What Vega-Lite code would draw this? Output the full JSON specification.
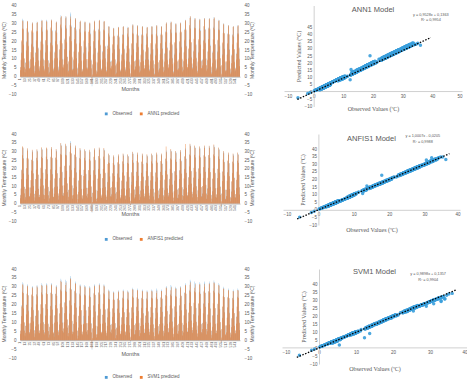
{
"$schema":"https://vega.github.io/schema/vega-lite/v6.json",
"background":"white",
"padding":{"left":1,"top":2.5,"right":0,"bottom":0},
"config":{"view":{"stroke":null},"font":"Liberation Sans","axis":{"grid":false,"labelOverlap":false,"labelColor":"#595959","titleColor":"#595959","labelFont":"Liberation Sans","titleFont":"Liberation Sans","titleFontWeight":"normal","domainColor":"#D0D0D0","tickColor":"#D0D0D0"},"axisQuantitative":{"labelOverlap":false},"legend":{"labelColor":"#595959","labelFont":"Liberation Sans"}},
"resolve":{"scale":{"color":"independent"},"legend":{"color":"independent"}},
"spacing":24.5,
"datasets":{"d":[
{"m":1,"o":3.2,"a":3.8,"f":3.0,"s":3.6},{"m":2,"o":5.1,"a":5.4,"f":4.8,"s":5.5},{"m":3,"o":8.9,"a":9.5,"f":8.6,"s":9.2},{"m":4,"o":13.8,"a":13.2,"f":14.1,"s":13.5},{"m":5,"o":19.6,"a":20.3,"f":19.2,"s":19.0},{"m":6,"o":27.4,"a":26.8,"f":27.9,"s":27.0},{"m":7,"o":32.5,"a":31.6,"f":32.9,"s":31.4},{"m":8,"o":31.8,"a":31.2,"f":32.3,"s":30.9},{"m":9,"o":26.2,"a":26.9,"f":25.8,"s":26.5},{"m":10,"o":17.5,"a":18.1,"f":17.2,"s":17.9},{"m":11,"o":9.8,"a":10.4,"f":9.5,"s":10.1},{"m":12,"o":5.6,"a":5.1,"f":5.9,"s":5.3},
{"m":13,"o":2.1,"a":2.7,"f":2.3,"s":2.6},{"m":14,"o":3.9,"a":4.5,"f":3.6,"s":4.2},{"m":15,"o":8.2,"a":7.7,"f":8.5,"s":8.0},{"m":16,"o":14.3,"a":14.9,"f":14.0,"s":14.6},{"m":17,"o":20.1,"a":19.4,"f":20.4,"s":19.8},{"m":18,"o":26.5,"a":27.2,"f":26.1,"s":26.0},{"m":19,"o":31.5,"a":30.9,"f":31.8,"s":30.6},{"m":20,"o":30.7,"a":31.3,"f":30.4,"s":30.1},{"m":21,"o":25.4,"a":24.8,"f":25.9,"s":25.1},{"m":22,"o":16.8,"a":17.4,"f":16.5,"s":16.3},{"m":23,"o":9.1,"a":8.6,"f":9.4,"s":9.7},{"m":24,"o":4.3,"a":4.9,"f":4.0,"s":4.6},
{"m":25,"o":4.0,"a":4.4,"f":4.2,"s":3.6},{"m":26,"o":5.6,"a":5.0,"f":5.9,"s":6.1},{"m":27,"o":9.4,"a":10.0,"f":9.1,"s":9.8},{"m":28,"o":13.2,"a":13.9,"f":13.5,"s":12.9},{"m":29,"o":18.7,"a":18.1,"f":19.0,"s":18.4},{"m":30,"o":25.3,"a":25.9,"f":25.0,"s":25.7},{"m":31,"o":30.5,"a":29.8,"f":30.9,"s":29.7},{"m":32,"o":29.9,"a":30.4,"f":29.5,"s":29.2},{"m":33,"o":24.6,"a":25.2,"f":24.3,"s":24.9},{"m":34,"o":17.1,"a":16.5,"f":17.4,"s":16.8},{"m":35,"o":10.3,"a":10.9,"f":10.0,"s":10.6},{"m":36,"o":5.8,"a":6.3,"f":5.5,"s":5.4},
{"m":37,"o":1.5,"a":2.2,"f":1.8,"s":2.0},{"m":38,"o":3.4,"a":3.0,"f":3.7,"s":3.9},{"m":39,"o":7.6,"a":8.3,"f":7.3,"s":7.9},{"m":40,"o":13.9,"a":13.3,"f":14.2,"s":13.6},{"m":41,"o":19.8,"a":20.5,"f":19.5,"s":20.2},{"m":42,"o":26.0,"a":25.4,"f":26.3,"s":25.5},{"m":43,"o":31.0,"a":30.2,"f":31.3,"s":30.3},{"m":44,"o":30.2,"a":30.8,"f":29.9,"s":29.6},{"m":45,"o":25.0,"a":25.7,"f":24.6,"s":24.5},{"m":46,"o":16.4,"a":15.9,"f":16.7,"s":16.9},{"m":47,"o":8.7,"a":9.3,"f":8.4,"s":9.0},{"m":48,"o":3.9,"a":4.4,"f":3.6,"s":4.3},
{"m":49,"o":3.5,"a":3.1,"f":3.8,"s":4.0},{"m":50,"o":5.2,"a":5.9,"f":4.9,"s":5.6},{"m":51,"o":9.6,"a":9.0,"f":9.9,"s":9.3},{"m":52,"o":14.5,"a":15.1,"f":14.2,"s":14.8},{"m":53,"o":20.3,"a":19.7,"f":20.6,"s":20.0},{"m":54,"o":27.1,"a":27.8,"f":26.8,"s":26.6},{"m":55,"o":32.0,"a":31.3,"f":32.4,"s":31.0},{"m":56,"o":31.2,"a":31.7,"f":30.9,"s":30.5},{"m":57,"o":25.9,"a":25.3,"f":26.2,"s":25.6},{"m":58,"o":17.9,"a":18.5,"f":17.6,"s":18.2},{"m":59,"o":10.2,"a":9.7,"f":10.5,"s":9.9},{"m":60,"o":5.4,"a":6.0,"f":5.1,"s":5.8},
{"m":61,"o":2.8,"a":3.4,"f":2.6,"s":3.3},{"m":62,"o":4.6,"a":4.1,"f":4.9,"s":4.2},{"m":63,"o":8.8,"a":9.4,"f":8.5,"s":9.1},{"m":64,"o":14.0,"a":13.5,"f":14.3,"s":13.7},{"m":65,"o":19.9,"a":20.6,"f":19.6,"s":20.3},{"m":66,"o":26.8,"a":26.1,"f":27.1,"s":26.4},{"m":67,"o":32.0,"a":31.5,"f":32.3,"s":31.2},{"m":68,"o":31.4,"a":30.7,"f":31.7,"s":30.6},{"m":69,"o":25.7,"a":26.4,"f":25.4,"s":26.0},{"m":70,"o":17.2,"a":17.8,"f":16.9,"s":17.5},{"m":71,"o":9.4,"a":9.0,"f":9.7,"s":8.9},{"m":72,"o":4.9,"a":5.5,"f":4.6,"s":5.2},
{"m":73,"o":0.9,"a":1.6,"f":1.2,"s":1.5},{"m":74,"o":2.8,"a":2.3,"f":3.1,"s":3.2},{"m":75,"o":7.3,"a":7.9,"f":7.0,"s":7.6},{"m":76,"o":13.6,"a":14.2,"f":13.3,"s":13.9},{"m":77,"o":19.4,"a":18.8,"f":19.7,"s":19.1},{"m":78,"o":27.0,"a":27.6,"f":26.7,"s":26.5},{"m":79,"o":32.2,"a":31.4,"f":32.6,"s":31.3},{"m":80,"o":31.5,"a":32.0,"f":31.2,"s":30.8},{"m":81,"o":26.1,"a":25.5,"f":26.4,"s":25.8},{"m":82,"o":17.0,"a":17.6,"f":16.7,"s":17.3},{"m":83,"o":8.9,"a":9.5,"f":8.6,"s":9.2},{"m":84,"o":3.6,"a":3.1,"f":3.9,"s":3.9},
{"m":85,"o":3.9,"a":4.5,"f":3.7,"s":4.4},{"m":86,"o":5.5,"a":5.0,"f":5.8,"s":2.0},{"m":87,"o":9.7,"a":10.3,"f":9.4,"s":10.0},{"m":88,"o":14.2,"a":13.6,"f":14.5,"s":13.9},{"m":89,"o":19.5,"a":20.2,"f":19.2,"s":19.8},{"m":90,"o":26.2,"a":25.6,"f":26.5,"s":25.9},{"m":91,"o":31.0,"a":30.3,"f":31.4,"s":30.2},{"m":92,"o":30.3,"a":30.9,"f":30.0,"s":29.7},{"m":93,"o":25.1,"a":24.5,"f":25.4,"s":24.8},{"m":94,"o":17.6,"a":18.2,"f":17.3,"s":17.9},{"m":95,"o":10.0,"a":10.6,"f":9.7,"s":10.3},{"m":96,"o":5.7,"a":5.2,"f":6.0,"s":5.4},
{"m":97,"o":2.4,"a":3.0,"f":2.2,"s":2.9},{"m":98,"o":4.3,"a":3.8,"f":4.6,"s":4.7},{"m":99,"o":8.6,"a":9.2,"f":8.3,"s":8.9},{"m":100,"o":14.8,"a":15.4,"f":14.5,"s":15.1},{"m":101,"o":20.9,"a":20.2,"f":21.2,"s":20.5},{"m":102,"o":28.6,"a":29.3,"f":28.3,"s":28.0},{"m":103,"o":34.5,"a":33.2,"f":34.8,"s":33.4},{"m":104,"o":33.6,"a":34.1,"f":33.3,"s":32.7},{"m":105,"o":27.8,"a":27.1,"f":28.1,"s":27.4},{"m":106,"o":18.3,"a":18.9,"f":18.0,"s":18.6},{"m":107,"o":10.1,"a":9.6,"f":10.4,"s":9.8},{"m":108,"o":5.0,"a":5.6,"f":4.7,"s":5.3},
{"m":109,"o":4.6,"a":5.1,"f":4.4,"s":4.2},{"m":110,"o":6.3,"a":6.9,"f":6.0,"s":6.7},{"m":111,"o":10.2,"a":9.7,"f":10.5,"s":9.9},{"m":112,"o":15.0,"a":15.6,"f":14.7,"s":15.3},{"m":113,"o":21.4,"a":20.8,"f":21.7,"s":21.0},{"m":114,"o":28.3,"a":28.9,"f":28.0,"s":27.7},{"m":115,"o":34.0,"a":32.9,"f":34.4,"s":31.0},{"m":116,"o":33.2,"a":33.8,"f":32.9,"s":32.4},{"m":117,"o":27.5,"a":26.9,"f":27.8,"s":27.1},{"m":118,"o":19.0,"a":19.6,"f":18.7,"s":19.3},{"m":119,"o":11.4,"a":11.0,"f":11.7,"s":11.8},{"m":120,"o":6.8,"a":7.3,"f":6.5,"s":7.1},
{"m":121,"o":1.8,"a":2.5,"f":2.1,"s":2.4},{"m":122,"o":3.7,"a":3.2,"f":4.0,"s":4.1},{"m":123,"o":8.1,"a":8.7,"f":7.8,"s":8.4},{"m":124,"o":15.2,"a":14.6,"f":15.5,"s":14.9},{"m":125,"o":22.0,"a":22.7,"f":21.7,"s":22.4},{"m":126,"o":29.5,"a":28.9,"f":29.8,"s":29.0},{"m":127,"o":36.0,"a":32.5,"f":33.2,"s":34.6},{"m":128,"o":35.1,"a":33.8,"f":34.8,"s":34.2},{"m":129,"o":28.7,"a":28.0,"f":29.0,"s":28.3},{"m":130,"o":19.4,"a":20.0,"f":19.1,"s":19.7},{"m":131,"o":10.6,"a":11.2,"f":10.3,"s":10.9},{"m":132,"o":4.5,"a":4.0,"f":4.8,"s":4.9},
{"m":133,"o":3.0,"a":3.6,"f":2.8,"s":3.5},{"m":134,"o":4.8,"a":4.3,"f":5.1,"s":4.4},{"m":135,"o":9.0,"a":9.6,"f":8.7,"s":9.3},{"m":136,"o":14.6,"a":14.0,"f":14.9,"s":14.3},{"m":137,"o":20.6,"a":21.2,"f":20.3,"s":20.9},{"m":138,"o":27.9,"a":27.3,"f":28.2,"s":27.5},{"m":139,"o":33.0,"a":32.2,"f":33.4,"s":32.0},{"m":140,"o":32.3,"a":32.9,"f":32.0,"s":31.6},{"m":141,"o":26.6,"a":26.0,"f":26.9,"s":26.3},{"m":142,"o":18.1,"a":18.7,"f":17.8,"s":18.4},{"m":143,"o":9.9,"a":10.5,"f":9.6,"s":10.2},{"m":144,"o":5.1,"a":4.6,"f":5.4,"s":5.5},
{"m":145,"o":0.4,"a":1.1,"f":0.7,"s":1.0},{"m":146,"o":2.3,"a":1.8,"f":2.6,"s":2.7},{"m":147,"o":6.9,"a":7.5,"f":6.6,"s":7.2},{"m":148,"o":13.4,"a":14.0,"f":13.1,"s":13.7},{"m":149,"o":19.2,"a":18.6,"f":19.5,"s":18.9},{"m":150,"o":26.4,"a":27.0,"f":26.1,"s":25.8},{"m":151,"o":31.5,"a":30.8,"f":31.9,"s":30.7},{"m":152,"o":30.8,"a":31.4,"f":30.5,"s":30.2},{"m":153,"o":25.3,"a":24.7,"f":25.6,"s":25.0},{"m":154,"o":16.6,"a":17.2,"f":16.3,"s":16.9},{"m":155,"o":8.5,"a":9.1,"f":8.2,"s":8.8},{"m":156,"o":3.2,"a":2.7,"f":3.5,"s":3.6},
{"m":157,"o":2.7,"a":3.3,"f":2.5,"s":3.2},{"m":158,"o":4.5,"a":4.0,"f":4.8,"s":4.9},{"m":159,"o":8.7,"a":9.3,"f":8.4,"s":9.0},{"m":160,"o":13.7,"a":13.1,"f":15.8,"s":9.2},{"m":161,"o":19.6,"a":20.3,"f":19.3,"s":19.9},{"m":162,"o":26.0,"a":25.3,"f":26.3,"s":25.6},{"m":163,"o":31.0,"a":30.4,"f":31.3,"s":30.1},{"m":164,"o":30.4,"a":30.9,"f":30.1,"s":29.8},{"m":165,"o":24.9,"a":25.5,"f":24.6,"s":25.2},{"m":166,"o":16.9,"a":16.3,"f":17.2,"s":16.6},{"m":167,"o":9.3,"a":9.9,"f":9.0,"s":9.6},{"m":168,"o":4.6,"a":5.2,"f":4.3,"s":4.9},
{"m":169,"o":3.6,"a":4.2,"f":3.4,"s":3.1},{"m":170,"o":5.3,"a":4.8,"f":5.6,"s":5.7},{"m":171,"o":9.3,"a":9.9,"f":9.0,"s":9.6},{"m":172,"o":13.5,"a":14.1,"f":13.2,"s":13.8},{"m":173,"o":19.0,"a":25.2,"f":19.3,"s":18.7},{"m":174,"o":25.6,"a":26.2,"f":25.3,"s":25.0},{"m":175,"o":30.5,"a":29.9,"f":30.9,"s":29.6},{"m":176,"o":29.8,"a":30.3,"f":29.5,"s":29.1},{"m":177,"o":24.4,"a":23.8,"f":24.7,"s":24.1},{"m":178,"o":16.7,"a":17.3,"f":16.4,"s":17.0},{"m":179,"o":9.6,"a":9.1,"f":9.9,"s":9.3},{"m":180,"o":4.1,"a":4.7,"f":3.8,"s":4.4},
{"m":181,"o":-5.3,"a":-3.9,"f":-4.8,"s":-4.5},{"m":182,"o":0.6,"a":1.3,"f":0.9,"s":1.2},{"m":183,"o":6.4,"a":7.0,"f":6.1,"s":6.7},{"m":184,"o":13.1,"a":12.5,"f":13.4,"s":12.8},{"m":185,"o":19.3,"a":20.0,"f":19.0,"s":19.6},{"m":186,"o":26.6,"a":26.0,"f":26.9,"s":26.2},{"m":187,"o":31.5,"a":30.7,"f":31.8,"s":30.6},{"m":188,"o":30.9,"a":31.5,"f":30.6,"s":30.2},{"m":189,"o":25.2,"a":25.8,"f":24.9,"s":25.5},{"m":190,"o":16.3,"a":15.8,"f":16.6,"s":16.0},{"m":191,"o":8.0,"a":8.6,"f":7.7,"s":8.3},{"m":192,"o":2.9,"a":3.5,"f":2.6,"s":3.3},
{"m":193,"o":1.2,"a":1.8,"f":1.4,"s":1.7},{"m":194,"o":3.1,"a":2.6,"f":3.4,"s":3.5},{"m":195,"o":7.5,"a":8.1,"f":7.2,"s":7.8},{"m":196,"o":14.1,"a":13.5,"f":14.4,"s":13.8},{"m":197,"o":20.0,"a":20.7,"f":19.7,"s":20.3},{"m":198,"o":27.0,"a":26.4,"f":27.3,"s":26.6},{"m":199,"o":32.0,"a":31.3,"f":32.3,"s":31.1},{"m":200,"o":31.3,"a":31.9,"f":31.0,"s":30.7},{"m":201,"o":25.8,"a":25.2,"f":26.1,"s":25.5},{"m":202,"o":17.3,"a":17.9,"f":17.0,"s":17.6},{"m":203,"o":9.0,"a":9.6,"f":8.7,"s":9.3},{"m":204,"o":4.0,"a":3.5,"f":4.3,"s":4.4},
{"m":205,"o":3.4,"a":4.0,"f":3.2,"s":3.9},{"m":206,"o":5.0,"a":4.5,"f":5.3,"s":4.6},{"m":207,"o":9.1,"a":9.7,"f":8.8,"s":9.4},{"m":208,"o":14.4,"a":13.8,"f":14.7,"s":14.1},{"m":209,"o":20.2,"a":20.8,"f":19.9,"s":20.5},{"m":210,"o":26.7,"a":26.1,"f":27.0,"s":26.3},{"m":211,"o":31.5,"a":30.9,"f":31.9,"s":30.7},{"m":212,"o":30.8,"a":31.3,"f":30.5,"s":30.1},{"m":213,"o":25.5,"a":26.1,"f":25.2,"s":25.8},{"m":214,"o":17.4,"a":16.8,"f":17.7,"s":17.1},{"m":215,"o":9.7,"a":10.3,"f":9.4,"s":10.0},{"m":216,"o":5.2,"a":5.8,"f":4.9,"s":5.5},
{"m":217,"o":2.2,"a":2.8,"f":2.0,"s":2.7},{"m":218,"o":3.8,"a":3.3,"f":4.1,"s":4.2},{"m":219,"o":7.8,"a":8.4,"f":7.5,"s":8.1},{"m":220,"o":12.6,"a":15.6,"f":12.3,"s":12.9},{"m":221,"o":17.9,"a":17.3,"f":22.8,"s":17.6},{"m":222,"o":23.8,"a":24.4,"f":23.5,"s":23.2},{"m":223,"o":28.5,"a":28.0,"f":28.8,"s":27.9},{"m":224,"o":27.9,"a":28.4,"f":27.6,"s":27.4},{"m":225,"o":23.1,"a":22.5,"f":23.4,"s":22.8},{"m":226,"o":15.8,"a":16.4,"f":15.5,"s":16.1},{"m":227,"o":8.8,"a":8.3,"f":9.1,"s":8.5},{"m":228,"o":4.4,"a":5.0,"f":4.1,"s":4.7},
{"m":229,"o":4.1,"a":4.6,"f":3.9,"s":3.7},{"m":230,"o":5.6,"a":6.2,"f":5.3,"s":6.0},{"m":231,"o":9.2,"a":8.7,"f":9.5,"s":8.9},{"m":232,"o":12.9,"a":13.5,"f":12.6,"s":13.2},{"m":233,"o":17.6,"a":18.2,"f":17.3,"s":17.9},{"m":234,"o":23.0,"a":22.4,"f":23.3,"s":22.7},{"m":235,"o":27.5,"a":27.0,"f":27.8,"s":26.9},{"m":236,"o":26.9,"a":27.4,"f":26.6,"s":26.5},{"m":237,"o":22.4,"a":23.0,"f":22.1,"s":22.7},{"m":238,"o":15.6,"a":15.1,"f":15.9,"s":15.3},{"m":239,"o":9.4,"a":10.0,"f":9.1,"s":9.7},{"m":240,"o":5.9,"a":6.4,"f":5.6,"s":6.2},
{"m":241,"o":0.7,"a":1.4,"f":1.0,"s":1.3},{"m":242,"o":2.5,"a":2.0,"f":2.8,"s":2.9},{"m":243,"o":6.8,"a":7.4,"f":6.5,"s":7.1},{"m":244,"o":12.3,"a":8.6,"f":12.6,"s":6.6},{"m":245,"o":17.5,"a":18.1,"f":17.2,"s":17.8},{"m":246,"o":23.5,"a":22.9,"f":23.8,"s":23.1},{"m":247,"o":28.0,"a":27.5,"f":28.3,"s":27.4},{"m":248,"o":27.4,"a":27.9,"f":27.1,"s":26.9},{"m":249,"o":22.6,"a":22.0,"f":22.9,"s":22.3},{"m":250,"o":15.1,"a":15.7,"f":14.8,"s":15.4},{"m":251,"o":7.9,"a":8.5,"f":7.6,"s":8.2},{"m":252,"o":3.3,"a":2.8,"f":3.6,"s":3.7},
{"m":253,"o":3.0,"a":3.6,"f":2.8,"s":3.5},{"m":254,"o":4.7,"a":4.2,"f":5.0,"s":5.1},{"m":255,"o":8.5,"a":9.1,"f":8.2,"s":8.8},{"m":256,"o":13.0,"a":12.4,"f":13.3,"s":12.7},{"m":257,"o":18.1,"a":18.7,"f":17.8,"s":18.4},{"m":258,"o":24.0,"a":23.4,"f":24.3,"s":23.6},{"m":259,"o":28.5,"a":27.9,"f":28.8,"s":27.8},{"m":260,"o":27.8,"a":28.3,"f":27.5,"s":27.3},{"m":261,"o":23.0,"a":23.6,"f":22.7,"s":23.3},{"m":262,"o":15.9,"a":15.3,"f":16.2,"s":15.6},{"m":263,"o":9.0,"a":9.6,"f":8.7,"s":9.3},{"m":264,"o":4.8,"a":5.4,"f":4.5,"s":5.1},
{"m":265,"o":2.5,"a":3.1,"f":2.3,"s":3.0},{"m":266,"o":4.2,"a":3.7,"f":4.5,"s":4.6},{"m":267,"o":8.3,"a":8.9,"f":8.0,"s":8.6},{"m":268,"o":12.8,"a":13.4,"f":12.5,"s":13.1},{"m":269,"o":17.8,"a":17.2,"f":18.1,"s":17.5},{"m":270,"o":23.6,"a":24.2,"f":23.3,"s":23.0},{"m":271,"o":28.0,"a":27.4,"f":28.3,"s":27.3},{"m":272,"o":27.3,"a":27.8,"f":27.0,"s":26.8},{"m":273,"o":22.7,"a":22.1,"f":23.0,"s":22.4},{"m":274,"o":15.4,"a":16.0,"f":15.1,"s":15.7},{"m":275,"o":8.6,"a":8.1,"f":8.9,"s":8.3},{"m":276,"o":4.0,"a":4.6,"f":3.7,"s":4.3},
{"m":277,"o":-1.2,"a":-0.3,"f":-0.9,"s":-0.5},{"m":278,"o":1.4,"a":2.0,"f":1.7,"s":1.9},{"m":279,"o":6.2,"a":6.8,"f":5.9,"s":6.5},{"m":280,"o":12.5,"a":11.9,"f":10.8,"s":12.2},{"m":281,"o":18.2,"a":18.8,"f":17.9,"s":18.5},{"m":282,"o":24.8,"a":24.2,"f":25.1,"s":24.4},{"m":283,"o":29.5,"a":28.8,"f":29.8,"s":28.7},{"m":284,"o":28.8,"a":29.3,"f":28.5,"s":28.2},{"m":285,"o":23.7,"a":24.3,"f":23.4,"s":24.0},{"m":286,"o":15.7,"a":15.2,"f":16.0,"s":15.4},{"m":287,"o":8.2,"a":8.8,"f":7.9,"s":8.5},{"m":288,"o":3.1,"a":3.7,"f":2.8,"s":3.4},
{"m":289,"o":3.8,"a":4.3,"f":3.6,"s":3.4},{"m":290,"o":5.4,"a":5.9,"f":5.1,"s":5.8},{"m":291,"o":9.5,"a":9.0,"f":9.8,"s":9.2},{"m":292,"o":13.3,"a":13.9,"f":13.0,"s":13.6},{"m":293,"o":18.5,"a":19.1,"f":18.2,"s":18.8},{"m":294,"o":24.3,"a":23.7,"f":24.6,"s":24.0},{"m":295,"o":29.0,"a":28.4,"f":29.3,"s":28.2},{"m":296,"o":28.3,"a":28.8,"f":28.0,"s":27.8},{"m":297,"o":23.4,"a":22.8,"f":23.7,"s":23.1},{"m":298,"o":16.2,"a":16.8,"f":15.9,"s":16.5},{"m":299,"o":9.8,"a":9.3,"f":10.1,"s":9.5},{"m":300,"o":5.5,"a":6.1,"f":5.2,"s":5.8},
{"m":301,"o":1.9,"a":2.5,"f":2.1,"s":2.4},{"m":302,"o":3.6,"a":3.1,"f":3.9,"s":4.0},{"m":303,"o":7.7,"a":8.3,"f":7.4,"s":8.0},{"m":304,"o":12.7,"a":12.1,"f":13.0,"s":12.4},{"m":305,"o":17.9,"a":18.5,"f":17.6,"s":18.2},{"m":306,"o":23.9,"a":23.3,"f":24.2,"s":23.5},{"m":307,"o":28.5,"a":27.9,"f":28.8,"s":27.8},{"m":308,"o":27.8,"a":28.3,"f":27.5,"s":27.3},{"m":309,"o":22.9,"a":23.5,"f":22.6,"s":23.2},{"m":310,"o":15.3,"a":14.8,"f":15.6,"s":15.0},{"m":311,"o":8.4,"a":9.0,"f":8.1,"s":8.7},{"m":312,"o":3.7,"a":4.3,"f":3.4,"s":4.0},
{"m":313,"o":4.4,"a":4.9,"f":4.2,"s":4.0},{"m":314,"o":6.0,"a":6.6,"f":5.7,"s":6.4},{"m":315,"o":9.9,"a":9.4,"f":10.2,"s":9.6},{"m":316,"o":13.6,"a":14.2,"f":13.3,"s":13.9},{"m":317,"o":18.4,"a":17.8,"f":18.7,"s":18.1},{"m":318,"o":23.7,"a":24.3,"f":23.4,"s":23.1},{"m":319,"o":28.0,"a":27.5,"f":28.3,"s":27.4},{"m":320,"o":27.4,"a":27.9,"f":27.1,"s":26.9},{"m":321,"o":22.8,"a":22.2,"f":23.1,"s":22.5},{"m":322,"o":16.0,"a":16.6,"f":15.7,"s":16.3},{"m":323,"o":9.9,"a":9.4,"f":10.2,"s":9.6},{"m":324,"o":6.2,"a":6.8,"f":5.9,"s":6.5},
{"m":325,"o":2.6,"a":3.2,"f":2.4,"s":3.1},{"m":326,"o":4.3,"a":3.8,"f":4.6,"s":4.7},{"m":327,"o":8.4,"a":9.0,"f":8.1,"s":8.7},{"m":328,"o":13.1,"a":12.5,"f":13.4,"s":12.8},{"m":329,"o":18.3,"a":18.9,"f":18.0,"s":18.6},{"m":330,"o":24.1,"a":23.5,"f":24.4,"s":23.7},{"m":331,"o":28.5,"a":28.0,"f":28.8,"s":27.8},{"m":332,"o":27.9,"a":28.4,"f":27.6,"s":27.4},{"m":333,"o":23.2,"a":23.8,"f":22.9,"s":23.5},{"m":334,"o":15.6,"a":15.1,"f":15.9,"s":15.3},{"m":335,"o":8.7,"a":9.3,"f":8.4,"s":9.0},{"m":336,"o":4.2,"a":4.8,"f":3.9,"s":4.5},
{"m":337,"o":0.2,"a":0.9,"f":0.5,"s":0.8},{"m":338,"o":2.0,"a":1.5,"f":2.3,"s":2.4},{"m":339,"o":6.6,"a":7.2,"f":6.3,"s":6.9},{"m":340,"o":12.4,"a":11.8,"f":12.7,"s":12.1},{"m":341,"o":18.0,"a":18.6,"f":17.7,"s":18.3},{"m":342,"o":24.4,"a":23.8,"f":24.7,"s":24.0},{"m":343,"o":29.0,"a":28.3,"f":29.3,"s":26.5},{"m":344,"o":28.4,"a":28.9,"f":28.1,"s":27.8},{"m":345,"o":23.3,"a":22.7,"f":23.6,"s":23.0},{"m":346,"o":15.2,"a":15.8,"f":14.9,"s":15.5},{"m":347,"o":7.7,"a":8.3,"f":7.4,"s":8.0},{"m":348,"o":2.8,"a":2.3,"f":3.1,"s":3.2},
{"m":349,"o":3.3,"a":3.9,"f":3.1,"s":3.8},{"m":350,"o":4.9,"a":4.4,"f":5.2,"s":5.3},{"m":351,"o":8.8,"a":9.4,"f":8.5,"s":9.1},{"m":352,"o":13.2,"a":12.6,"f":13.5,"s":12.9},{"m":353,"o":18.4,"a":19.0,"f":18.1,"s":18.7},{"m":354,"o":24.2,"a":23.6,"f":24.5,"s":23.8},{"m":355,"o":28.5,"a":27.9,"f":28.8,"s":27.7},{"m":356,"o":27.9,"a":28.4,"f":27.6,"s":27.5},{"m":357,"o":23.1,"a":23.7,"f":22.8,"s":23.4},{"m":358,"o":16.1,"a":15.5,"f":16.4,"s":15.8},{"m":359,"o":9.2,"a":9.8,"f":8.9,"s":9.5},{"m":360,"o":5.0,"a":5.6,"f":4.7,"s":5.3},
{"m":361,"o":2.0,"a":2.6,"f":2.2,"s":2.5},{"m":362,"o":3.8,"a":3.3,"f":4.1,"s":4.2},{"m":363,"o":8.0,"a":8.6,"f":7.7,"s":8.3},{"m":364,"o":13.5,"a":12.9,"f":13.8,"s":13.2},{"m":365,"o":19.1,"a":19.7,"f":18.8,"s":19.4},{"m":366,"o":25.6,"a":25.0,"f":25.9,"s":25.2},{"m":367,"o":30.5,"a":29.8,"f":32.8,"s":29.6},{"m":368,"o":29.8,"a":30.4,"f":29.5,"s":29.2},{"m":369,"o":24.5,"a":25.1,"f":24.2,"s":24.8},{"m":370,"o":16.5,"a":16.0,"f":16.8,"s":16.2},{"m":371,"o":8.9,"a":9.5,"f":8.6,"s":9.2},{"m":372,"o":4.1,"a":4.7,"f":3.8,"s":4.4},
{"m":373,"o":4.8,"a":5.3,"f":4.6,"s":4.4},{"m":374,"o":6.4,"a":7.0,"f":6.1,"s":6.8},{"m":375,"o":10.3,"a":9.8,"f":10.6,"s":10.0},{"m":376,"o":14.3,"a":14.9,"f":14.0,"s":14.6},{"m":377,"o":19.7,"a":19.1,"f":20.0,"s":19.4},{"m":378,"o":26.1,"a":26.7,"f":25.8,"s":25.5},{"m":379,"o":31.0,"a":30.3,"f":31.4,"s":28.0},{"m":380,"o":30.3,"a":30.9,"f":30.0,"s":29.7},{"m":381,"o":25.0,"a":24.4,"f":25.3,"s":24.7},{"m":382,"o":17.7,"a":18.3,"f":17.4,"s":18.0},{"m":383,"o":10.7,"a":10.2,"f":11.0,"s":10.4},{"m":384,"o":6.5,"a":7.1,"f":6.2,"s":6.8},
{"m":385,"o":1.4,"a":2.0,"f":1.6,"s":1.9},{"m":386,"o":3.2,"a":2.7,"f":3.5,"s":3.6},{"m":387,"o":7.4,"a":8.0,"f":7.1,"s":7.7},{"m":388,"o":13.0,"a":12.4,"f":13.3,"s":12.7},{"m":389,"o":18.8,"a":19.4,"f":18.5,"s":19.1},{"m":390,"o":25.1,"a":24.5,"f":25.4,"s":24.7},{"m":391,"o":30.0,"a":29.4,"f":30.3,"s":29.2},{"m":392,"o":29.3,"a":29.9,"f":29.0,"s":28.7},{"m":393,"o":24.2,"a":24.8,"f":23.9,"s":24.5},{"m":394,"o":16.2,"a":15.7,"f":16.5,"s":15.9},{"m":395,"o":8.3,"a":8.9,"f":8.0,"s":8.6},{"m":396,"o":3.5,"a":4.1,"f":3.2,"s":3.8},
{"m":397,"o":3.1,"a":3.7,"f":2.9,"s":3.6},{"m":398,"o":4.9,"a":4.4,"f":5.2,"s":5.3},{"m":399,"o":9.0,"a":9.6,"f":8.7,"s":9.3},{"m":400,"o":13.8,"a":13.2,"f":14.1,"s":13.5},{"m":401,"o":19.3,"a":19.9,"f":19.0,"s":19.6},{"m":402,"o":25.5,"a":24.9,"f":25.8,"s":23.5},{"m":403,"o":30.5,"a":29.9,"f":30.8,"s":29.7},{"m":404,"o":29.8,"a":30.3,"f":29.5,"s":29.2},{"m":405,"o":24.7,"a":25.3,"f":24.4,"s":25.0},{"m":406,"o":17.0,"a":16.4,"f":17.3,"s":16.7},{"m":407,"o":9.5,"a":10.1,"f":9.2,"s":9.8},{"m":408,"o":5.0,"a":5.6,"f":4.7,"s":5.3},
{"m":409,"o":2.3,"a":2.9,"f":2.1,"s":2.8},{"m":410,"o":4.1,"a":3.6,"f":4.4,"s":4.5},{"m":411,"o":8.4,"a":9.0,"f":8.1,"s":8.7},{"m":412,"o":14.2,"a":13.6,"f":14.5,"s":13.9},{"m":413,"o":20.1,"a":20.7,"f":19.8,"s":20.4},{"m":414,"o":26.9,"a":26.3,"f":27.2,"s":26.5},{"m":415,"o":32.0,"a":31.2,"f":34.3,"s":31.0},{"m":416,"o":31.3,"a":31.8,"f":31.0,"s":30.6},{"m":417,"o":25.9,"a":26.5,"f":25.6,"s":26.2},{"m":418,"o":17.4,"a":16.9,"f":17.7,"s":17.1},{"m":419,"o":9.3,"a":9.9,"f":9.0,"s":9.6},{"m":420,"o":4.5,"a":5.1,"f":4.2,"s":4.8},
{"m":421,"o":5.0,"a":5.5,"f":4.8,"s":4.6},{"m":422,"o":6.7,"a":7.3,"f":6.4,"s":7.0},{"m":423,"o":10.6,"a":10.1,"f":10.9,"s":10.3},{"m":424,"o":15.3,"a":15.9,"f":15.0,"s":15.6},{"m":425,"o":21.2,"a":20.6,"f":21.5,"s":20.9},{"m":426,"o":28.4,"a":29.0,"f":28.1,"s":27.8},{"m":427,"o":34.0,"a":33.0,"f":34.4,"s":31.2},{"m":428,"o":33.3,"a":33.9,"f":33.0,"s":32.5},{"m":429,"o":27.4,"a":26.8,"f":27.7,"s":27.0},{"m":430,"o":18.9,"a":19.5,"f":18.6,"s":19.2},{"m":431,"o":11.2,"a":10.7,"f":11.5,"s":10.9},{"m":432,"o":7.0,"a":7.6,"f":6.7,"s":7.3},
{"m":433,"o":3.7,"a":4.3,"f":3.5,"s":4.2},{"m":434,"o":5.4,"a":4.9,"f":5.7,"s":5.8},{"m":435,"o":9.4,"a":10.0,"f":9.1,"s":9.7},{"m":436,"o":14.7,"a":14.1,"f":15.0,"s":14.4},{"m":437,"o":20.7,"a":21.3,"f":20.4,"s":21.0},{"m":438,"o":27.8,"a":27.2,"f":28.1,"s":27.4},{"m":439,"o":33.0,"a":32.1,"f":33.4,"s":29.5},{"m":440,"o":32.2,"a":32.8,"f":31.9,"s":31.5},{"m":441,"o":26.7,"a":27.3,"f":26.4,"s":27.0},{"m":442,"o":18.2,"a":17.6,"f":18.5,"s":17.9},{"m":443,"o":10.1,"a":10.7,"f":9.8,"s":10.4},{"m":444,"o":5.6,"a":6.2,"f":5.3,"s":5.9},
{"m":445,"o":1.6,"a":2.2,"f":1.8,"s":2.1},{"m":446,"o":3.5,"a":3.0,"f":3.8,"s":3.9},{"m":447,"o":7.9,"a":8.5,"f":7.6,"s":8.2},{"m":448,"o":14.0,"a":13.4,"f":14.3,"s":13.7},{"m":449,"o":20.4,"a":21.0,"f":20.1,"s":20.7},{"m":450,"o":27.3,"a":26.7,"f":27.6,"s":26.9},{"m":451,"o":32.5,"a":31.7,"f":32.9,"s":31.5},{"m":452,"o":31.8,"a":32.4,"f":31.5,"s":31.1},{"m":453,"o":26.3,"a":25.7,"f":26.6,"s":26.0},{"m":454,"o":17.5,"a":18.1,"f":17.2,"s":17.8},{"m":455,"o":9.2,"a":8.7,"f":9.5,"s":8.9},{"m":456,"o":4.3,"a":4.9,"f":4.0,"s":4.6},
{"m":457,"o":4.2,"a":4.7,"f":4.0,"s":3.8},{"m":458,"o":5.9,"a":6.5,"f":5.6,"s":6.3},{"m":459,"o":9.8,"a":9.3,"f":10.1,"s":9.5},{"m":460,"o":14.9,"a":15.5,"f":14.6,"s":15.2},{"m":461,"o":20.8,"a":20.2,"f":21.1,"s":20.5},{"m":462,"o":27.9,"a":28.5,"f":27.6,"s":27.3},{"m":463,"o":33.0,"a":32.2,"f":33.4,"s":30.0},{"m":464,"o":32.3,"a":32.8,"f":32.0,"s":31.6},{"m":465,"o":26.8,"a":26.2,"f":27.1,"s":26.5},{"m":466,"o":18.5,"a":19.1,"f":18.2,"s":18.8},{"m":467,"o":10.5,"a":10.0,"f":10.8,"s":10.2},{"m":468,"o":6.0,"a":6.6,"f":5.7,"s":6.3},
{"m":469,"o":2.9,"a":3.5,"f":2.7,"s":3.4},{"m":470,"o":4.7,"a":4.2,"f":5.0,"s":5.1},{"m":471,"o":8.9,"a":9.5,"f":8.6,"s":9.2},{"m":472,"o":14.6,"a":14.0,"f":14.9,"s":14.3},{"m":473,"o":20.6,"a":21.2,"f":20.3,"s":20.9},{"m":474,"o":27.7,"a":27.1,"f":28.0,"s":27.3},{"m":475,"o":33.0,"a":32.3,"f":33.3,"s":31.8},{"m":476,"o":32.2,"a":32.7,"f":31.9,"s":31.5},{"m":477,"o":26.5,"a":27.1,"f":26.2,"s":26.8},{"m":478,"o":17.9,"a":17.3,"f":18.2,"s":17.6},{"m":479,"o":9.7,"a":10.3,"f":9.4,"s":10.0},{"m":480,"o":5.1,"a":5.7,"f":4.8,"s":5.4},
{"m":481,"o":0.8,"a":1.5,"f":1.1,"s":1.4},{"m":482,"o":2.7,"a":2.2,"f":3.0,"s":3.1},{"m":483,"o":7.2,"a":7.8,"f":6.9,"s":7.5},{"m":484,"o":14.1,"a":13.5,"f":14.4,"s":13.8},{"m":485,"o":20.5,"a":21.1,"f":20.2,"s":20.8},{"m":486,"o":28.0,"a":27.4,"f":28.3,"s":27.6},{"m":487,"o":33.5,"a":32.6,"f":33.9,"s":32.4},{"m":488,"o":32.7,"a":33.3,"f":32.4,"s":32.0},{"m":489,"o":27.0,"a":26.4,"f":27.3,"s":26.7},{"m":490,"o":17.8,"a":18.4,"f":17.5,"s":18.1},{"m":491,"o":9.0,"a":9.6,"f":8.7,"s":9.3},{"m":492,"o":3.7,"a":3.2,"f":4.0,"s":4.1},
{"m":493,"o":3.5,"a":4.1,"f":3.3,"s":4.0},{"m":494,"o":5.1,"a":4.6,"f":5.4,"s":5.5},{"m":495,"o":9.2,"a":9.8,"f":8.9,"s":9.5},{"m":496,"o":14.4,"a":13.8,"f":14.7,"s":14.1},{"m":497,"o":20.2,"a":20.8,"f":19.9,"s":20.5},{"m":498,"o":26.9,"a":26.3,"f":27.2,"s":26.5},{"m":499,"o":32.0,"a":31.3,"f":32.3,"s":31.0},{"m":500,"o":31.3,"a":31.9,"f":31.0,"s":30.6},{"m":501,"o":25.8,"a":26.4,"f":25.5,"s":26.1},{"m":502,"o":17.6,"a":17.0,"f":17.9,"s":17.3},{"m":503,"o":9.9,"a":10.5,"f":9.6,"s":10.2},{"m":504,"o":5.3,"a":5.9,"f":5.0,"s":5.6},
{"m":505,"o":-2.0,"a":-1.0,"f":-1.7,"s":-1.3},{"m":506,"o":1.0,"a":1.6,"f":1.3,"s":1.5},{"m":507,"o":6.0,"a":6.6,"f":5.7,"s":6.3},{"m":508,"o":12.7,"a":12.1,"f":13.0,"s":12.4},{"m":509,"o":18.6,"a":19.2,"f":18.3,"s":18.9},{"m":510,"o":25.0,"a":24.4,"f":25.3,"s":24.6},{"m":511,"o":30.0,"a":29.3,"f":30.3,"s":29.1},{"m":512,"o":29.3,"a":29.8,"f":29.0,"s":28.7},{"m":513,"o":24.0,"a":24.6,"f":23.7,"s":24.3},{"m":514,"o":15.9,"a":15.4,"f":16.2,"s":15.6},{"m":515,"o":8.1,"a":8.7,"f":7.8,"s":8.4},{"m":516,"o":3.0,"a":3.6,"f":2.7,"s":3.3},
{"m":517,"o":2.4,"a":3.0,"f":2.2,"s":2.9},{"m":518,"o":4.0,"a":3.5,"f":4.3,"s":4.4},{"m":519,"o":8.1,"a":8.7,"f":7.8,"s":8.4},{"m":520,"o":12.9,"a":12.3,"f":13.2,"s":12.6},{"m":521,"o":18.2,"a":18.8,"f":17.9,"s":18.5},{"m":522,"o":24.4,"a":23.8,"f":24.7,"s":24.0},{"m":523,"o":29.0,"a":28.4,"f":29.3,"s":28.2},{"m":524,"o":28.3,"a":28.9,"f":28.0,"s":27.8},{"m":525,"o":23.4,"a":24.0,"f":23.1,"s":23.7},{"m":526,"o":15.5,"a":15.0,"f":15.8,"s":15.2},{"m":527,"o":8.5,"a":9.1,"f":8.2,"s":8.8},{"m":528,"o":4.0,"a":4.6,"f":3.7,"s":4.3},
{"m":529,"o":1.1,"a":1.7,"f":1.3,"s":1.6},{"m":530,"o":2.9,"a":2.4,"f":3.2,"s":3.3},{"m":531,"o":7.1,"a":7.7,"f":6.8,"s":7.4},{"m":532,"o":12.5,"a":11.9,"f":12.8,"s":12.2},{"m":533,"o":17.7,"a":18.3,"f":17.4,"s":18.0},{"m":534,"o":23.9,"a":23.3,"f":24.2,"s":23.5},{"m":535,"o":28.5,"a":27.9,"f":28.8,"s":27.7},{"m":536,"o":27.8,"a":28.4,"f":27.5,"s":27.3},{"m":537,"o":22.9,"a":22.3,"f":23.2,"s":22.6},{"m":538,"o":15.0,"a":15.6,"f":14.7,"s":15.3},{"m":539,"o":7.8,"a":8.4,"f":7.5,"s":8.1},{"m":540,"o":3.4,"a":2.9,"f":3.7,"s":3.8},
{"m":541,"o":3.6,"a":4.2,"f":3.4,"s":4.1},{"m":542,"o":5.2,"a":4.7,"f":5.5,"s":5.6},{"m":543,"o":9.1,"a":9.7,"f":8.8,"s":9.4},{"m":544,"o":13.4,"a":12.8,"f":13.7,"s":13.1},{"m":545,"o":18.6,"a":19.2,"f":18.3,"s":18.9},{"m":546,"o":24.5,"a":23.9,"f":24.8,"s":24.1},{"m":547,"o":29.0,"a":28.4,"f":29.3,"s":28.2},{"m":548,"o":28.4,"a":28.9,"f":28.1,"s":27.9},{"m":549,"o":23.6,"a":24.2,"f":23.3,"s":23.9},{"m":550,"o":16.4,"a":15.8,"f":16.7,"s":16.1},{"m":551,"o":9.5,"a":10.1,"f":9.2,"s":9.8},{"m":552,"o":5.4,"a":6.0,"f":5.1,"s":5.7}
]},
"vconcat":[
{"vconcat":[
{"hconcat":[
{"width":220,"height":89,"data":{"name":"d"},
"encoding":{"x":{"field":"m","type":"ordinal","scale":{"paddingInner":0,"paddingOuter":0},"axis":{"orient":"bottom","offset":-17.8,"values":[1,13,25,37,49,61,73,85,97,109,121,133,145,157,169,181,193,205,217,229,241,253,265,277,289,301,313,325,337,349,361,373,385,397,409,421,433,445,457,469,481,493,505,517,529,541],"labelAngle":-90,"labelFontSize":3.5,"labelPadding":1,"labelOverlap":false,"ticks":false,"domainColor":"#BFBFBF","title":"Months","titleFontSize":5.5,"titlePadding":3}}},
"layer":[
{"mark":{"type":"bar","width":{"band":0.25}},"encoding":{"y":{"field":"o","type":"quantitative","scale":{"domain":[-10,40]},"axis":{"orient":"left","values":[-10,-5,0,5,10,15,20,25,30,35,40],"labelFontSize":4.5,"labelPadding":4,"labelOverlap":false,"domain":false,"ticks":false,"title":"Monthly Temperature (ºC)","titleFontSize":5,"titlePadding":2}},"color":{"datum":"Observed","type":"nominal","scale":{"domain":["Observed","ANN1 predicted"],"range":["#4E9AD4","#ED7D31"]},"legend":{"orient":"none","legendX":84,"legendY":106,"direction":"horizontal","title":null,"symbolType":"square","symbolSize":8,"labelFontSize":4.5,"columnPadding":6,"symbolStrokeWidth":0}}}},
{"mark":{"type":"bar","width":{"band":1}},"encoding":{"y":{"field":"a","type":"quantitative","scale":{"domain":[-10,40]},"axis":{"orient":"right","values":[-10,-5,0,5,10,15,20,25,30,35,40],"labelFontSize":4.5,"labelPadding":4,"labelOverlap":false,"domain":false,"ticks":false,"title":"Monthly Temperature (ºC)","titleFontSize":5,"titleAngle":270,"titlePadding":3}},"color":{"datum":"ANN1 predicted","type":"nominal"}}}
],
"resolve":{"scale":{"y":"independent"}}},
{"width":178,"height":101,
"title":{"text":"ANN1 Model","fontSize":7.5,"color":"#595959","fontWeight":"normal","frame":"group","offset":-8},
"layer":[
{"data":{"name":"d"},"mark":{"type":"point","shape":"circle","filled":true,"size":12,"color":"#3A9EDB","opacity":0.9},"encoding":{"x":{"field":"o","type":"quantitative","scale":{"domain":[-10,50]},"axis":{"orient":"bottom","offset":-15.45,"values":[-10,0,10,20,30,40,50],"labelFontSize":4.5,"labelOverlap":false,"labelSeparation":-20,"ticks":false,"title":"Observed Values (ºC)","titleFont":"Liberation Serif","titleFontSize":6,"titlePadding":7.5}},"y":{"field":"a","type":"quantitative","scale":{"domain":[-10,55.35]},"axis":{"orient":"left","offset":-29.67,"values":[-10,-5,0,5,10,15,20,25,30,35,40,45],"labelFontSize":4.5,"labelOverlap":false,"labelSeparation":-20,"ticks":false,"title":"Predicted Values (ºC)","titleFont":"Liberation Serif","titleFontSize":6,"titlePadding":3}}}},
{"data":{"values":[{"o":-5.5,"a":-5.1},{"o":39.5,"a":37.8}]},"mark":{"type":"line","color":"#000000","strokeWidth":1.3,"strokeDash":[1.5,1.5]},"encoding":{"x":{"field":"o","type":"quantitative","axis":{"orient":"bottom","offset":-15.45,"values":[-10,0,10,20,30,40,50],"labelFontSize":4.5,"labelOverlap":false,"labelSeparation":-20,"ticks":false,"title":"Observed Values (ºC)","titleFont":"Liberation Serif","titleFontSize":6,"titlePadding":7.5}},"y":{"field":"a","type":"quantitative","axis":{"orient":"left","offset":-29.67,"values":[-10,-5,0,5,10,15,20,25,30,35,40,45],"labelFontSize":4.5,"labelOverlap":false,"labelSeparation":-20,"ticks":false,"title":"Predicted Values (ºC)","titleFont":"Liberation Serif","titleFontSize":6,"titlePadding":3}}}},
{"data":{"values":[{}]},"mark":{"type":"text","text":["y = 0,9528x + 0,1363","R² = 0,9954"],"fontSize":3.8,"color":"#595959","baseline":"top","lineHeight":5.5},"encoding":{"x":{"datum":39.5,"axis":{"orient":"bottom","offset":-15.45,"values":[-10,0,10,20,30,40,50],"labelFontSize":4.5,"labelOverlap":false,"labelSeparation":-20,"ticks":false,"title":"Observed Values (ºC)","titleFont":"Liberation Serif","titleFontSize":6,"titlePadding":7.5}},"y":{"datum":55,"axis":{"orient":"left","offset":-29.67,"values":[-10,-5,0,5,10,15,20,25,30,35,40,45],"labelFontSize":4.5,"labelOverlap":false,"labelSeparation":-20,"ticks":false,"title":"Predicted Values (ºC)","titleFont":"Liberation Serif","titleFontSize":6,"titlePadding":3}}}}
]}
],"spacing":29},
{"hconcat":[
{"width":220,"height":87,"data":{"name":"d"},
"encoding":{"x":{"field":"m","type":"ordinal","scale":{"paddingInner":0,"paddingOuter":0},"axis":{"orient":"bottom","offset":-17.4,"values":[1,13,25,37,49,61,73,85,97,109,121,133,145,157,169,181,193,205,217,229,241,253,265,277,289,301,313,325,337,349,361,373,385,397,409,421,433,445,457,469,481,493,505,517,529,541],"labelAngle":-90,"labelFontSize":3.5,"labelPadding":1,"labelOverlap":false,"ticks":false,"domainColor":"#BFBFBF","title":"Months","titleFontSize":5.5,"titlePadding":1}}},
"layer":[
{"mark":{"type":"bar","width":{"band":0.25}},"encoding":{"y":{"field":"o","type":"quantitative","scale":{"domain":[-10,40]},"axis":{"orient":"left","values":[-10,-5,0,5,10,15,20,25,30,35,40],"labelFontSize":4.5,"labelPadding":4,"labelOverlap":false,"domain":false,"ticks":false,"title":"Monthly Temperature (ºC)","titleFontSize":5,"titlePadding":2}},"color":{"datum":"Observed","type":"nominal","scale":{"domain":["Observed","ANFIS1 predicted"],"range":["#4E9AD4","#ED7D31"]},"legend":{"orient":"none","legendX":84,"legendY":103,"direction":"horizontal","title":null,"symbolType":"square","symbolSize":8,"labelFontSize":4.5,"columnPadding":6,"symbolStrokeWidth":0}}}},
{"mark":{"type":"bar","width":{"band":1}},"encoding":{"y":{"field":"f","type":"quantitative","scale":{"domain":[-10,40]},"axis":{"orient":"right","values":[-10,-5,0,5,10,15,20,25,30,35,40],"labelFontSize":4.5,"labelPadding":4,"labelOverlap":false,"domain":false,"ticks":false,"title":"Monthly Temperature (ºC)","titleFontSize":5,"titleAngle":270,"titlePadding":3}},"color":{"datum":"ANFIS1 predicted","type":"nominal"}}}
],
"resolve":{"scale":{"y":"independent"}}},
{"width":177,"height":91,
"title":{"text":"ANFIS1 Model","fontSize":7.5,"color":"#595959","fontWeight":"normal","frame":"group","offset":-8},
"layer":[
{"data":{"name":"d"},"mark":{"type":"point","shape":"circle","filled":true,"size":12,"color":"#3A9EDB","opacity":0.9},"encoding":{"x":{"field":"o","type":"quantitative","scale":{"domain":[-10,40]},"axis":{"orient":"bottom","offset":-15.2,"values":[-10,0,10,20,30,40],"labelFontSize":4.5,"labelOverlap":false,"labelSeparation":-20,"ticks":false,"title":"Observed Values (ºC)","titleFont":"Liberation Serif","titleFontSize":6,"titlePadding":10}},"y":{"field":"f","type":"quantitative","scale":{"domain":[-10,49.87]},"axis":{"orient":"left","offset":-35.4,"values":[-10,-5,0,5,10,15,20,25,30,35,40],"labelFontSize":4.5,"labelOverlap":false,"labelSeparation":-20,"ticks":false,"title":"Predicted Values (ºC)","titleFont":"Liberation Serif","titleFontSize":6,"titlePadding":3}}}},
{"data":{"values":[{"o":-6,"f":-6.0},{"o":37,"f":37.0}]},"mark":{"type":"line","color":"#000000","strokeWidth":1.3,"strokeDash":[1.5,1.5]},"encoding":{"x":{"field":"o","type":"quantitative","axis":{"orient":"bottom","offset":-15.2,"values":[-10,0,10,20,30,40],"labelFontSize":4.5,"labelOverlap":false,"labelSeparation":-20,"ticks":false,"title":"Observed Values (ºC)","titleFont":"Liberation Serif","titleFontSize":6,"titlePadding":10}},"y":{"field":"f","type":"quantitative","axis":{"orient":"left","offset":-35.4,"values":[-10,-5,0,5,10,15,20,25,30,35,40],"labelFontSize":4.5,"labelOverlap":false,"labelSeparation":-20,"ticks":false,"title":"Predicted Values (ºC)","titleFont":"Liberation Serif","titleFontSize":6,"titlePadding":3}}}},
{"data":{"values":[{}]},"mark":{"type":"text","text":["y = 1,0007x - 0,0205","R² = 0,9988"],"fontSize":3.8,"color":"#595959","baseline":"top","lineHeight":5.5},"encoding":{"x":{"datum":29.5,"axis":{"orient":"bottom","offset":-15.2,"values":[-10,0,10,20,30,40],"labelFontSize":4.5,"labelOverlap":false,"labelSeparation":-20,"ticks":false,"title":"Observed Values (ºC)","titleFont":"Liberation Serif","titleFontSize":6,"titlePadding":10}},"y":{"datum":49.8,"axis":{"orient":"left","offset":-35.4,"values":[-10,-5,0,5,10,15,20,25,30,35,40],"labelFontSize":4.5,"labelOverlap":false,"labelSeparation":-20,"ticks":false,"title":"Predicted Values (ºC)","titleFont":"Liberation Serif","titleFontSize":6,"titlePadding":3}}}}
]}
],"spacing":28}
],"spacing":15.5,"resolve":{"scale":{"color":"independent"},"legend":{"color":"independent"}}},
{"hconcat":[
{"width":220,"height":89,"data":{"name":"d"},
"encoding":{"x":{"field":"m","type":"ordinal","scale":{"paddingInner":0,"paddingOuter":0},"axis":{"orient":"bottom","offset":-17.8,"values":[1,13,25,37,49,61,73,85,97,109,121,133,145,157,169,181,193,205,217,229,241,253,265,277,289,301,313,325,337,349,361,373,385,397,409,421,433,445,457,469,481,493,505,517,529,541],"labelAngle":-90,"labelFontSize":3.5,"labelPadding":1,"labelOverlap":false,"ticks":false,"domainColor":"#BFBFBF","title":"Months","titleFontSize":5.5,"titlePadding":4}}},
"layer":[
{"mark":{"type":"bar","width":{"band":0.25}},"encoding":{"y":{"field":"o","type":"quantitative","scale":{"domain":[-10,40]},"axis":{"orient":"left","values":[-10,-5,0,5,10,15,20,25,30,35,40],"labelFontSize":4.5,"labelPadding":4,"labelOverlap":false,"domain":false,"ticks":false,"title":"Monthly Temperature (ºC)","titleFontSize":5,"titlePadding":2}},"color":{"datum":"Observed","type":"nominal","scale":{"domain":["Observed","SVM1 predicted"],"range":["#4E9AD4","#ED7D31"]},"legend":{"orient":"none","legendX":84,"legendY":106,"direction":"horizontal","title":null,"symbolType":"square","symbolSize":8,"labelFontSize":4.5,"columnPadding":6,"symbolStrokeWidth":0}}}},
{"mark":{"type":"bar","width":{"band":1}},"encoding":{"y":{"field":"s","type":"quantitative","scale":{"domain":[-10,40]},"axis":{"orient":"right","values":[-10,-5,0,5,10,15,20,25,30,35,40],"labelFontSize":4.5,"labelPadding":4,"labelOverlap":false,"domain":false,"ticks":false,"title":"Monthly Temperature (ºC)","titleFontSize":5,"titleAngle":270,"titlePadding":3}},"color":{"datum":"SVM1 predicted","type":"nominal"}}}
],
"resolve":{"scale":{"y":"independent"}}},
{"width":185,"height":95,
"title":{"text":"SVM1 Model","fontSize":7.5,"color":"#595959","fontWeight":"normal","frame":"group","offset":-6},
"layer":[
{"data":{"name":"d"},"mark":{"type":"point","shape":"circle","filled":true,"size":12,"color":"#3A9EDB","opacity":0.9},"encoding":{"x":{"field":"o","type":"quantitative","scale":{"domain":[-10,40]},"axis":{"orient":"bottom","offset":-16.6,"values":[-10,0,10,20,30,40],"labelFontSize":4.5,"labelOverlap":false,"labelSeparation":-20,"ticks":false,"title":"Observed Values (ºC)","titleFont":"Liberation Serif","titleFontSize":6,"titlePadding":11.5}},"y":{"field":"s","type":"quantitative","scale":{"domain":[-10,47.23]},"axis":{"orient":"left","offset":-37,"values":[-10,-5,0,5,10,15,20,25,30,35,40],"labelFontSize":4.5,"labelOverlap":false,"labelSeparation":-20,"ticks":false,"title":"Predicted Values (ºC)","titleFont":"Liberation Serif","titleFontSize":6,"titlePadding":3}}}},
{"data":{"values":[{"o":-6,"s":-5.8},{"o":37.3,"s":37.05}]},"mark":{"type":"line","color":"#000000","strokeWidth":1.3,"strokeDash":[1.5,1.5]},"encoding":{"x":{"field":"o","type":"quantitative","axis":{"orient":"bottom","offset":-16.6,"values":[-10,0,10,20,30,40],"labelFontSize":4.5,"labelOverlap":false,"labelSeparation":-20,"ticks":false,"title":"Observed Values (ºC)","titleFont":"Liberation Serif","titleFontSize":6,"titlePadding":11.5}},"y":{"field":"s","type":"quantitative","axis":{"orient":"left","offset":-37,"values":[-10,-5,0,5,10,15,20,25,30,35,40],"labelFontSize":4.5,"labelOverlap":false,"labelSeparation":-20,"ticks":false,"title":"Predicted Values (ºC)","titleFont":"Liberation Serif","titleFontSize":6,"titlePadding":3}}}},
{"data":{"values":[{}]},"mark":{"type":"text","text":["y = 0,9898x + 0,1357","R² = 0,9904"],"fontSize":3.8,"color":"#595959","baseline":"top","lineHeight":5.5},"encoding":{"x":{"datum":29.5,"axis":{"orient":"bottom","offset":-16.6,"values":[-10,0,10,20,30,40],"labelFontSize":4.5,"labelOverlap":false,"labelSeparation":-20,"ticks":false,"title":"Observed Values (ºC)","titleFont":"Liberation Serif","titleFontSize":6,"titlePadding":11.5}},"y":{"datum":47.8,"axis":{"orient":"left","offset":-37,"values":[-10,-5,0,5,10,15,20,25,30,35,40],"labelFontSize":4.5,"labelOverlap":false,"labelSeparation":-20,"ticks":false,"title":"Predicted Values (ºC)","titleFont":"Liberation Serif","titleFontSize":6,"titlePadding":3}}}}
]}
],"spacing":27}
]
}
